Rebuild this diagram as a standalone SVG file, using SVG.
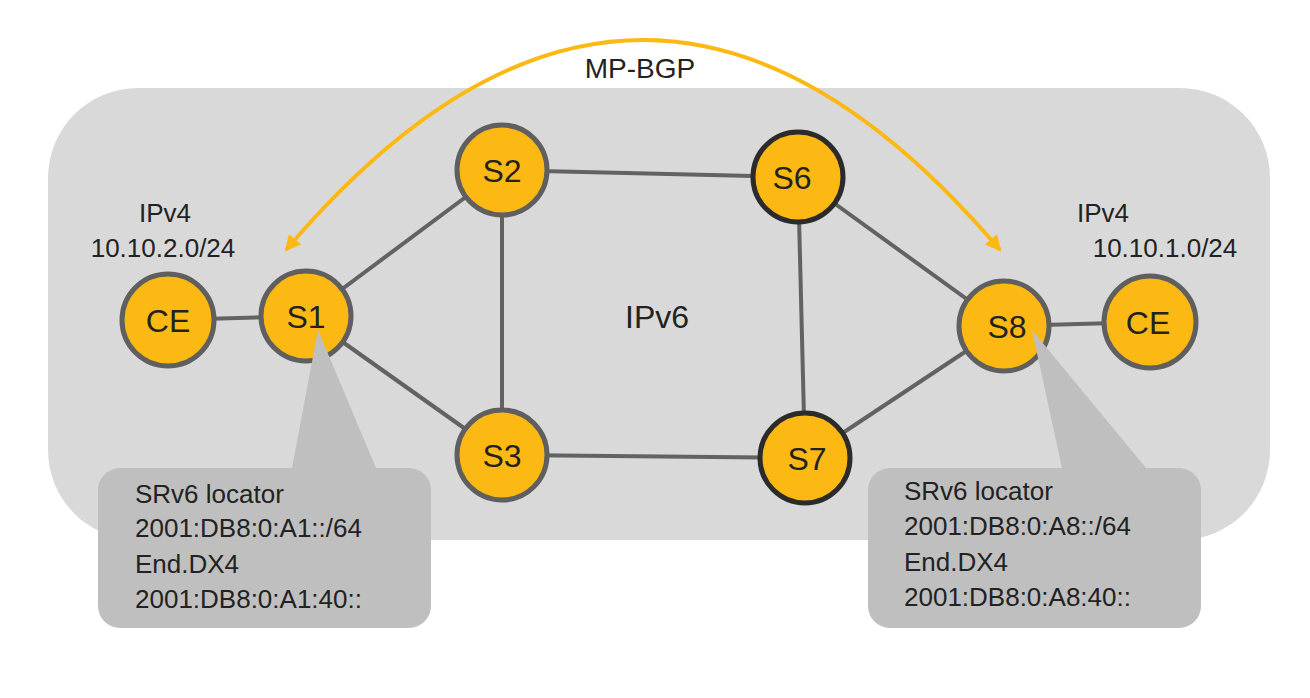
<svg xmlns="http://www.w3.org/2000/svg" width="1310" height="698" viewBox="0 0 1310 698">
<style>
text{font-family:"Liberation Sans",Arial,sans-serif;fill:#222}
.n{fill:#FDB913;stroke:#5f5f5f;stroke-width:5}
.d{stroke:#2b2b2b}
.e{stroke:#626262;stroke-width:4;fill:none}
.nl{font-size:32px;text-anchor:middle}
.c{fill:#bfbfbf}
.ct{font-size:26px}
</style>
<defs><marker id="a" markerWidth="10" markerHeight="10" refX="7" refY="5" orient="auto" markerUnits="userSpaceOnUse" viewBox="0 0 10 10"><path d="M0,0L10,5L0,10z" fill="#FDB913"/></marker>
<marker id="ah" markerWidth="18" markerHeight="18" refX="14" refY="9" orient="auto-start-reverse" markerUnits="userSpaceOnUse"><path d="M0,1L16,9L0,17z" fill="#FDB913"/></marker></defs>
<rect x="48" y="88" width="1222" height="452" rx="90" fill="#d9d9d9"/>
<g id="connectors">
<line class="e" x1="168" y1="320" x2="306" y2="316"/>
<line class="e" x1="306" y1="316" x2="502" y2="170"/>
<line class="e" x1="306" y1="316" x2="502" y2="455"/>
<line class="e" x1="502" y1="170" x2="502" y2="455"/>
<line class="e" x1="502" y1="170" x2="798" y2="177"/>
<line class="e" x1="502" y1="455" x2="805" y2="458"/>
<line class="e" x1="798" y1="177" x2="805" y2="458"/>
<line class="e" x1="798" y1="177" x2="1004" y2="326"/>
<line class="e" x1="805" y1="458" x2="1004" y2="326"/>
<line class="e" x1="1004" y1="326" x2="1150" y2="322"/>
<path d="M286,250Q643,-170 1000,250" stroke="#FDB913" stroke-width="4" fill="none" marker-start="url(#ah)" marker-end="url(#ah)"/>
</g>
<text x="640" y="78" font-size="28" text-anchor="middle">MP-BGP</text>
<text x="657" y="328" font-size="32" text-anchor="middle">IPv6</text>
<text x="165" y="222" font-size="26" text-anchor="middle">IPv4</text>
<text x="163" y="257" font-size="26" text-anchor="middle">10.10.2.0/24</text>
<text x="1103" y="222" font-size="26" text-anchor="middle">IPv4</text>
<text x="1165" y="257" font-size="26" text-anchor="middle">10.10.1.0/24</text>
<g id="CE1"><circle class="n" cx="168" cy="320" r="46"/><text class="nl" x="168" y="332">CE</text></g>
<g id="S1"><circle class="n" cx="306" cy="316" r="45"/><text class="nl" x="306" y="328">S1</text></g>
<g id="S2"><circle class="n" cx="502" cy="170" r="45"/><text class="nl" x="502" y="182">S2</text></g>
<g id="S3"><circle class="n" cx="502" cy="455" r="45"/><text class="nl" x="502" y="467">S3</text></g>
<g id="S6"><circle class="n d" cx="798" cy="177" r="45"/><text class="nl" x="792" y="189">S6</text></g>
<g id="S7"><circle class="n d" cx="805" cy="458" r="45"/><text class="nl" x="807" y="470">S7</text></g>
<g id="S8"><circle class="n" cx="1004" cy="326" r="45"/><text class="nl" x="1007" y="338">S8</text></g>
<g id="CE2"><circle class="n" cx="1150" cy="322" r="46"/><text class="nl" x="1148" y="334">CE</text></g>
<g id="loc1"><path class="c" d="M292,468L318,330L376,468z"/><rect class="c" x="98" y="468" width="333" height="160" rx="22"/>
<text class="ct" x="135" y="503">SRv6 locator</text><text class="ct" x="135" y="537">2001:DB8:0:A1::/64</text><text class="ct" x="135" y="573">End.DX4</text><text class="ct" x="135" y="608">2001:DB8:0:A1:40::</text></g>
<g id="loc2"><path class="c" d="M1062,468L1032,330L1146,468z"/><rect class="c" x="868" y="468" width="333" height="160" rx="22"/>
<text class="ct" x="904" y="500">SRv6 locator</text><text class="ct" x="904" y="535">2001:DB8:0:A8::/64</text><text class="ct" x="904" y="571">End.DX4</text><text class="ct" x="904" y="606">2001:DB8:0:A8:40::</text></g>
</svg>
